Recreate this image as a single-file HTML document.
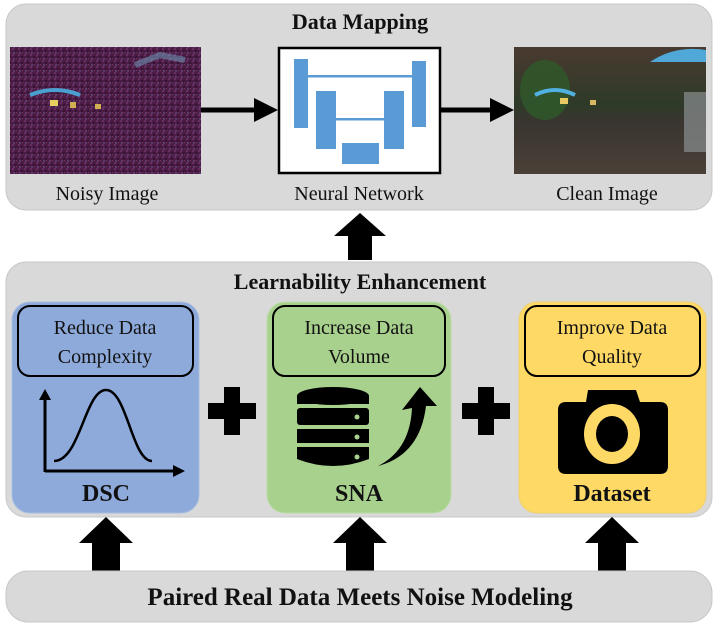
<!DOCTYPE html>
<html><head><meta charset="utf-8"><style>
html,body{margin:0;padding:0;background:#fff;}
svg{display:block;}
text{font-family:"Liberation Serif",serif;fill:#111;}
</style></head><body>
<svg width="720" height="628" viewBox="0 0 720 628" xmlns="http://www.w3.org/2000/svg">
<defs>
<pattern id="np" width="6" height="6" patternUnits="userSpaceOnUse">
<rect width="6" height="6" fill="#4a1c46"/>
<rect x="0" y="0" width="2" height="2" fill="#6a2e5e"/>
<rect x="3" y="2" width="2" height="2" fill="#351232"/>
<rect x="1" y="4" width="2" height="2" fill="#5c3a6a"/>
<rect x="4" y="4" width="1" height="1" fill="#7a3a5a"/>
</pattern>
<linearGradient id="cleang" x1="0" y1="0" x2="0" y2="1">
<stop offset="0" stop-color="#4a3a30"/><stop offset="0.45" stop-color="#2e3a28"/><stop offset="0.6" stop-color="#3a3530"/><stop offset="1" stop-color="#4a4038"/>
</linearGradient>
</defs>

<rect x="6" y="4" width="706" height="206" rx="20" fill="#d9d9d9" stroke="#c8c8c8"/>
<text x="360" y="29" font-size="22" font-weight="bold" text-anchor="middle">Data Mapping</text>
<rect x="10" y="47" width="191" height="127" fill="url(#np)"/>
<path d="M30 95 Q55 85 80 95" stroke="#4aa0d0" stroke-width="4" fill="none"/>
<rect x="50" y="100" width="8" height="6" fill="#e8d060"/><rect x="70" y="102" width="6" height="6" fill="#d0b050"/><rect x="95" y="104" width="6" height="5" fill="#d0b050"/>
<path d="M135 65 L160 55 L185 60" stroke="#7090b0" stroke-width="6" fill="none" opacity="0.6"/>
<line x1="201" y1="110" x2="258" y2="110" stroke="#000" stroke-width="5"/>
<polygon points="254,98 278,110 254,122" fill="#000"/>
<rect x="279" y="48" width="161" height="125" fill="#fff" stroke="#000" stroke-width="2.5"/>
<g fill="#5b9bd5">
<rect x="294" y="59" width="14" height="69"/>
<rect x="412" y="61" width="14" height="66"/>
<rect x="308" y="75" width="104" height="2.5"/>
<rect x="316" y="91" width="20" height="58"/>
<rect x="384" y="91" width="20" height="58"/>
<rect x="336" y="118" width="48" height="2.5"/>
<rect x="342" y="143" width="37" height="21"/>
</g>
<line x1="440" y1="110" x2="494" y2="110" stroke="#000" stroke-width="5"/>
<polygon points="490,98 514,110 490,122" fill="#000"/>
<rect x="514" y="47" width="192" height="127" fill="url(#cleang)"/>
<ellipse cx="545" cy="90" rx="25" ry="30" fill="#2f5a2a" opacity="0.8"/>
<path d="M535 95 Q555 85 575 95" stroke="#50b0e0" stroke-width="4" fill="none"/>
<path d="M650 62 Q675 45 706 50 L706 62 Z" fill="#50a8d8"/>
<rect x="560" y="98" width="8" height="6" fill="#e8c860"/><rect x="590" y="100" width="6" height="5" fill="#d8b860"/>
<rect x="684" y="92" width="22" height="60" fill="#8a8e92" opacity="0.7"/>
<text x="107" y="200" font-size="20" text-anchor="middle">Noisy Image</text>
<text x="359" y="200" font-size="20" text-anchor="middle">Neural Network</text>
<text x="607" y="200" font-size="20" text-anchor="middle">Clean Image</text>

<polygon points="360,213 386,236 372,236 372,260 348,260 348,236 334,236" fill="#000"/>

<rect x="6" y="262" width="706" height="255" rx="20" fill="#d9d9d9" stroke="#c8c8c8"/>
<text x="360" y="289" font-size="22" font-weight="bold" text-anchor="middle">Learnability Enhancement</text>

<rect x="12" y="302" width="187" height="211" rx="18" fill="#8eaadb" stroke="#a8bde0"/>
<rect x="18" y="306" width="175" height="70" rx="12" fill="#8eaadb" stroke="#000" stroke-width="2"/>
<text x="105" y="334" font-size="20" text-anchor="middle">Reduce Data</text>
<text x="105" y="363" font-size="20" text-anchor="middle">Complexity</text>
<line x1="45" y1="472" x2="45" y2="398" stroke="#000" stroke-width="3"/>
<polygon points="39,400 45,389 51,400" fill="#000"/>
<line x1="45" y1="471" x2="175" y2="471" stroke="#000" stroke-width="3"/>
<polygon points="173,465 185,471 173,477" fill="#000"/>
<path d="M54 461 C80 461 85 390 106 390 C127 390 132 461 152 461" stroke="#000" stroke-width="2.5" fill="none"/>
<text x="106" y="501" font-size="24" font-weight="bold" text-anchor="middle">DSC</text>

<rect x="208" y="403" width="48" height="16" fill="#000"/>
<rect x="224" y="387" width="16" height="48" fill="#000"/>

<rect x="267" y="302" width="184" height="211" rx="18" fill="#a9d18e" stroke="#bcdcaa"/>
<rect x="273" y="306" width="172" height="70" rx="12" fill="#a9d18e" stroke="#000" stroke-width="2"/>
<text x="359" y="334" font-size="20" text-anchor="middle">Increase Data</text>
<text x="359" y="363" font-size="20" text-anchor="middle">Volume</text>
<g fill="#000">
<ellipse cx="333" cy="396" rx="36" ry="9"/>
<rect x="297" y="408" width="72" height="17" rx="3"/>
<path d="M297 429 h72 v14 h-72 z"/>
<path d="M297 447 h72 v12 q-36 14 -72 0 z"/>
<path d="M297 396 h72 v8 h-72 z"/>
</g>
<g fill="#a9d18e"><circle cx="357" cy="417" r="2.5"/><circle cx="357" cy="437" r="2.5"/><circle cx="357" cy="457" r="2.5"/></g>
<path d="M378 466 Q410 450 412 408 L402 410 L420 387 L437 406 L426 406 Q420 455 378 466 Z" fill="#000"/>
<text x="359" y="501" font-size="24" font-weight="bold" text-anchor="middle">SNA</text>

<rect x="462" y="403" width="48" height="16" fill="#000"/>
<rect x="478" y="387" width="16" height="48" fill="#000"/>

<rect x="519" y="302" width="187" height="211" rx="18" fill="#ffd966" stroke="#f0d070"/>
<rect x="525" y="306" width="175" height="70" rx="12" fill="#ffd966" stroke="#000" stroke-width="2"/>
<text x="612" y="334" font-size="20" text-anchor="middle">Improve Data</text>
<text x="612" y="363" font-size="20" text-anchor="middle">Quality</text>
<path d="M588 390 h48 l4 12 h20 q8 0 8 8 v56 q0 8 -8 8 h-94 q-8 0 -8 -8 v-56 q0 -8 8 -8 h20 z" fill="#000"/>
<ellipse cx="612" cy="434" rx="28" ry="30" fill="#ffd966"/>
<ellipse cx="612" cy="434" rx="16" ry="18" fill="#000"/>
<text x="612" y="501" font-size="24" font-weight="bold" text-anchor="middle">Dataset</text>

<polygon points="106,517 133,543 120,543 120,572 92,572 92,543 79,543" fill="#000"/>
<polygon points="360,517 387,543 374,543 374,572 346,572 346,543 333,543" fill="#000"/>
<polygon points="612,517 639,543 626,543 626,572 598,572 598,543 585,543" fill="#000"/>

<rect x="6" y="571" width="706" height="51" rx="22" fill="#d9d9d9" stroke="#c8c8c8"/>
<text x="360" y="605" font-size="25" font-weight="bold" text-anchor="middle">Paired Real Data Meets Noise Modeling</text>
</svg>
</body></html>
